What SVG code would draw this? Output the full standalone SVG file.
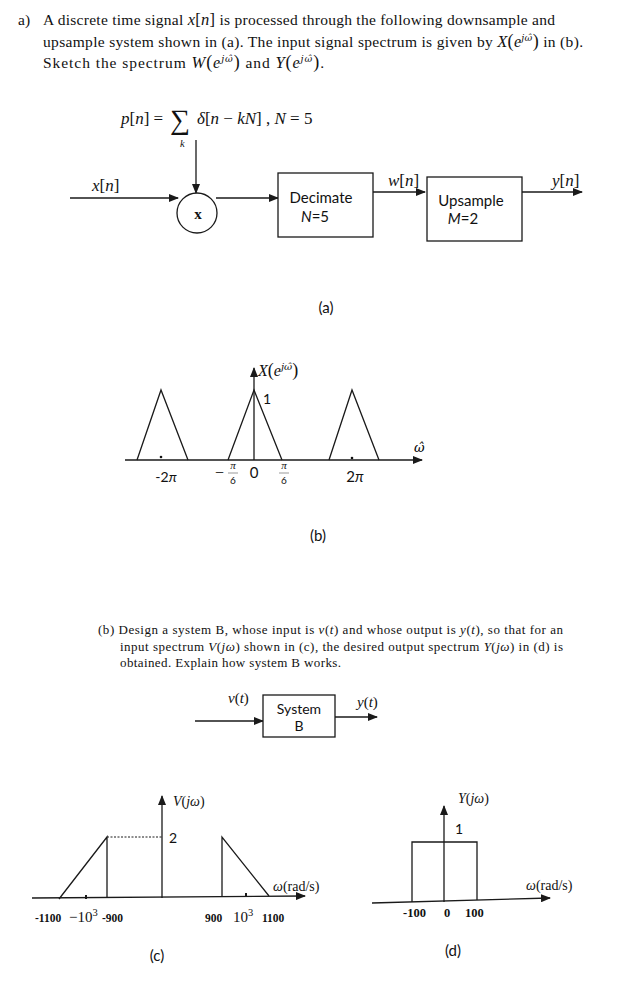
<svg xmlns="http://www.w3.org/2000/svg" width="622" height="1008" viewBox="0 0 622 1008">
<defs>
<marker id="ah" markerWidth="10" markerHeight="8" refX="9" refY="4" orient="auto" markerUnits="userSpaceOnUse">
<path d="M0,0 L10,4 L0,8 z" fill="#1a1a1a"/>
</marker>
</defs>
<style>
.t{font-family:"Liberation Serif",serif;fill:#111}
.m{font-family:"Liberation Serif",serif;font-style:italic;fill:#111}
.s{font-family:Lato,"Liberation Sans",sans-serif;fill:#111}
.i{font-style:italic}
.w{font-family:"DejaVu Serif",serif;font-style:italic}
.ln{stroke:#1a1a1a;stroke-width:1.3;fill:none}
.arr{stroke:#1a1a1a;stroke-width:1.3;fill:none;marker-end:url(#ah)}
.box{stroke:#1a1a1a;stroke-width:1.3;fill:#fff}
</style>
<rect width="622" height="1008" fill="#fff"/>

<g id="question-a">
<text class="t" font-size="15.5" x="18" y="25">a)</text>
<text class="t" font-size="15.5" x="43" y="25" textLength="512">A discrete time signal <tspan class="i" font-size="16.5">x</tspan><tspan font-size="16.5">[</tspan><tspan class="i" font-size="16.5">n</tspan><tspan font-size="16.5">]</tspan> is processed through the following downsample and</text>
<text class="t" font-size="15.5" x="43" y="47" textLength="540">upsample system shown in (a). The input signal spectrum is given by <tspan class="i" font-size="16.5">X</tspan><tspan font-size="18">(</tspan><tspan class="i" font-size="16">e</tspan><tspan class="w" font-size="9.5" dy="-6">jω̂</tspan><tspan font-size="18" dy="6">)</tspan> in (b).</text>
<text class="t" font-size="15.5" x="43" y="68" textLength="281">Sketch the spectrum <tspan class="i" font-size="16.5">W</tspan><tspan font-size="18">(</tspan><tspan class="i" font-size="16">e</tspan><tspan class="w" font-size="9.5" dy="-6">jω̂</tspan><tspan font-size="18" dy="6">)</tspan> and <tspan class="i" font-size="16.5">Y</tspan><tspan font-size="18">(</tspan><tspan class="i" font-size="16">e</tspan><tspan class="w" font-size="9.5" dy="-6">jω̂</tspan><tspan font-size="18" dy="6">)</tspan>.</text>
</g>

<g id="connectors">
<line class="arr" x1="196" y1="140" x2="196" y2="193"/>
<line class="arr" x1="70" y1="198" x2="178" y2="198"/>
<line class="arr" x1="216" y1="198" x2="278" y2="198"/>
<line class="arr" x1="373" y1="192" x2="425" y2="192"/>
<line class="arr" x1="522" y1="192" x2="582" y2="192"/>
<line class="arr" x1="195" y1="721" x2="263" y2="721"/>
<line class="arr" x1="335" y1="717" x2="377" y2="717"/>
</g>

<g id="pn-label">
<text class="t" font-size="17" x="121" y="124"><tspan class="i">p</tspan>[<tspan class="i">n</tspan>] =</text>
<text class="t" font-size="28" x="170" y="129">∑</text>
<text class="t" font-size="17" x="197" y="124"><tspan class="i">δ</tspan>[<tspan class="i">n</tspan> − <tspan class="i">kN</tspan>] , <tspan class="i">N</tspan> = 5</text>
<text class="m" font-size="10.5" x="180" y="147">k</text>
</g>

<g id="xn-label"><text class="t" font-size="17" x="92" y="191"><tspan class="i">x</tspan>[<tspan class="i">n</tspan>]</text></g>

<g id="multiplier">
<circle cx="197" cy="213" r="20" class="box"/>
<text class="t" font-size="15" font-weight="bold" x="198" y="219" text-anchor="middle">x</text>
</g>

<g id="decimate">
<rect x="278" y="173" width="95" height="64" class="box"/>
<text class="s" font-size="15" x="321" y="203" text-anchor="middle">Decimate</text>
<text class="s" font-size="15" x="315" y="222" text-anchor="middle"><tspan class="i">N</tspan>=5</text>
</g>

<g id="wn-label"><text class="t" font-size="17" x="388" y="186"><tspan class="i">w</tspan>[<tspan class="i">n</tspan>]</text></g>

<g id="upsample">
<rect x="427" y="177" width="95" height="64" class="box"/>
<text class="s" font-size="15" x="471" y="206" text-anchor="middle">Upsample</text>
<text class="s" font-size="15" x="463" y="224" text-anchor="middle"><tspan class="i">M</tspan>=2</text>
</g>

<g id="yn-label"><text class="t" font-size="17" x="552" y="186"><tspan class="i">y</tspan>[<tspan class="i">n</tspan>]</text></g>

<text class="s" font-size="15" x="326" y="313" text-anchor="middle">(a)</text>

<g id="spectrum-b">
<line class="arr" x1="125" y1="460" x2="422" y2="460"/>
<line class="arr" x1="254" y1="460" x2="254" y2="368"/>
<polyline class="ln" points="137,460 161,390 188,460"/>
<polyline class="ln" points="228,460 254,390 282,460"/>
<polyline class="ln" points="329,460 352,390 379,460"/>
<circle cx="161" cy="457" r="1.3" fill="#111"/>
<circle cx="352" cy="458" r="1.3" fill="#111"/>
<text class="t" font-size="16" x="258" y="376"><tspan class="i">X</tspan><tspan font-size="18">(</tspan><tspan class="i">e</tspan><tspan class="w" font-size="10" dy="-6">jω̂</tspan><tspan font-size="18" dy="6">)</tspan></text>
<text class="s" font-size="14" x="263" y="404">1</text>
<text class="w" font-size="13" x="414" y="452">ω̂</text>
<text class="s" font-size="14" x="166" y="482" text-anchor="middle">-2<tspan class="i">π</tspan></text>
<text class="t" font-size="16" x="215" y="478">−</text>
<text class="m" font-size="11" x="233" y="469" text-anchor="middle">π</text>
<line x1="228" y1="473" x2="238" y2="473" stroke="#555" stroke-width="0.6"/>
<text class="s" font-size="10" x="233" y="484" text-anchor="middle">6</text>
<text class="s" font-size="15" x="254" y="478" text-anchor="middle">0</text>
<text class="m" font-size="11" x="284" y="469" text-anchor="middle">π</text>
<line x1="279" y1="473" x2="289" y2="473" stroke="#555" stroke-width="0.6"/>
<text class="s" font-size="10" x="284" y="484" text-anchor="middle">6</text>
<text class="s" font-size="15" x="355" y="482" text-anchor="middle">2<tspan class="i">π</tspan></text>
<text class="s" font-size="15" x="318" y="541" text-anchor="middle">(b)</text>
</g>

<g id="question-b">
<text class="t" font-size="13" x="98" y="634" textLength="465">(b) Design a system B, whose input is <tspan class="i">v</tspan>(<tspan class="i">t</tspan>) and whose output is <tspan class="i">y</tspan>(<tspan class="i">t</tspan>), so that for an</text>
<text class="t" font-size="13" x="120" y="651" textLength="443">input spectrum <tspan class="i">V</tspan>(<tspan class="i">jω</tspan>) shown in (c), the desired output spectrum <tspan class="i">Y</tspan>(<tspan class="i">jω</tspan>) in (d) is</text>
<text class="t" font-size="13" x="120" y="667" textLength="221">obtained. Explain how system B works.</text>
</g>

<g id="vt-label"><text class="t" font-size="15" x="228" y="703"><tspan class="i">v</tspan>(<tspan class="i">t</tspan>)</text></g>
<g id="system-b">
<rect x="263" y="695" width="72" height="42" class="box"/>
<text class="s" font-size="14" x="299" y="714" text-anchor="middle">System</text>
<text class="s" font-size="14" x="299" y="731" text-anchor="middle">B</text>
</g>
<g id="yt-label"><text class="t" font-size="15" x="357" y="707"><tspan class="i">y</tspan>(<tspan class="i">t</tspan>)</text></g>

<g id="spectrum-c">
<line class="arr" x1="32" y1="898" x2="305" y2="896"/>
<line class="arr" x1="162" y1="898" x2="162" y2="796"/>
<polyline class="ln" points="59,899 107,837 107,898"/>
<line x1="107" y1="837" x2="162" y2="837" stroke="#1a1a1a" stroke-width="1" stroke-dasharray="2,1.5"/>
<polyline class="ln" points="222,897 222,837 269,896"/>
<line x1="86" y1="895" x2="86" y2="899" stroke="#1a1a1a" stroke-width="2"/>
<line x1="246" y1="893" x2="246" y2="897" stroke="#1a1a1a" stroke-width="2"/>
<text class="t" font-size="14" x="173" y="806"><tspan class="i">V</tspan>(<tspan class="i">jω</tspan>)</text>
<text class="s" font-size="14" x="169" y="843">2</text>
<text class="t" font-size="14" x="273" y="891"><tspan class="i">ω</tspan>(rad/s)</text>
<text class="t" font-size="11.5" font-weight="bold" x="35" y="922">-1100</text>
<text class="t" font-size="15" x="69" y="922">−10<tspan font-size="10.5" dy="-6">3</tspan></text>
<text class="t" font-size="11.5" font-weight="bold" x="102" y="922">-900</text>
<text class="t" font-size="11.5" font-weight="bold" x="205" y="922">900</text>
<text class="t" font-size="15" x="233" y="922">10<tspan font-size="10.5" dy="-6">3</tspan></text>
<text class="t" font-size="11.5" font-weight="bold" x="262" y="922">1100</text>
<text class="s" font-size="15" x="157" y="961" text-anchor="middle">(c)</text>
</g>

<g id="spectrum-d">
<line class="arr" x1="372" y1="903" x2="550" y2="898"/>
<line class="arr" x1="444" y1="902" x2="444" y2="806"/>
<polyline class="ln" points="412,902 412,842 477,842 477,900"/>
<text class="t" font-size="14" x="458" y="803"><tspan class="i">Y</tspan>(<tspan class="i">jω</tspan>)</text>
<text class="s" font-size="14" x="455" y="834">1</text>
<text class="t" font-size="14" x="526" y="890"><tspan class="i">ω</tspan>(rad/s)</text>
<text class="t" font-size="12.5" font-weight="bold" x="403" y="917">-100</text>
<text class="t" font-size="12.5" font-weight="bold" x="447" y="917" text-anchor="middle">0</text>
<text class="t" font-size="12.5" font-weight="bold" x="465" y="917">100</text>
<text class="s" font-size="15" x="453" y="956" text-anchor="middle">(d)</text>
</g>
</svg>
